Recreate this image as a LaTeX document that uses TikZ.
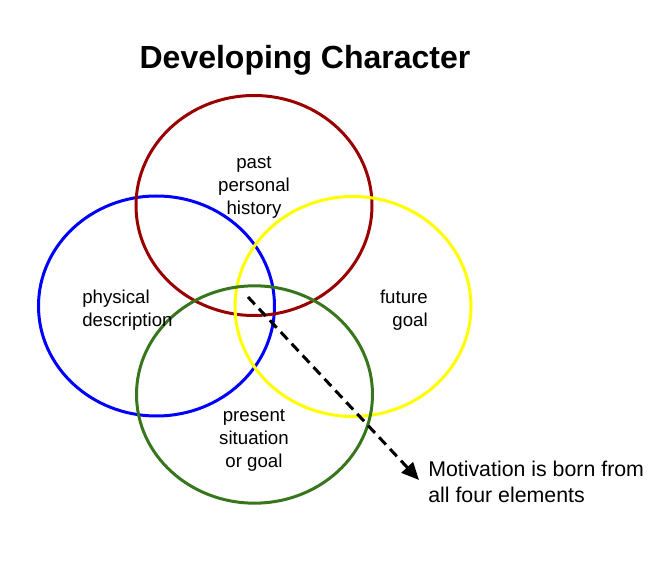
\documentclass[tikz,border=0pt]{standalone}
\usepackage{fontspec}
\setmainfont{Liberation Sans}
\usetikzlibrary{shapes.geometric,arrows.meta}
\definecolor{cred}{HTML}{990000}
\definecolor{cblue}{HTML}{0000FF}
\definecolor{cyellow}{HTML}{FFFF00}
\definecolor{cgreen}{HTML}{38761D}
\tikzset{
  ring/.style={ellipse, draw, line width=2.25pt, inner sep=0pt},
  lbl/.style={font=\fontsize{14}{17}\selectfont, inner sep=0pt},
  note/.style={font=\fontsize{16}{19.5}\selectfont, inner sep=0pt, align=left},
  motarrow/.style={line width=2.25pt, dash pattern=on 7.5pt off 4.5pt, -{Triangle[length=13pt,width=11.5pt]}}
}
\begin{document}
\begin{tikzpicture}[x=0.75pt,y=-0.75pt]
\useasboundingbox (0,0) rectangle (669,563);
\node[font=\fontsize{24}{28}\selectfont\bfseries, inner sep=0pt] (title) at (305,60) {Developing Character};
\node[ring, cblue, minimum width=177pt, minimum height=165pt] (blue) at (156.5,306) {};
\node[ring, cred, minimum width=177pt, minimum height=165pt] (red) at (254,205.5) {};
\node[ring, cyellow, minimum width=177pt, minimum height=165pt] (yellow) at (353,306.5) {};
\node[ring, cgreen, minimum width=177pt, minimum height=163pt] (green) at (254.5,394.5) {};
\node[lbl, align=center] (past) at (254,187.5) {past\\personal\\history};
\node[lbl, align=left, anchor=west] (phys) at (82,310) {physical\\description};
\node[lbl, align=right, anchor=east] (fut) at (428,310) {future\\goal};
\node[lbl, align=center] (pres) at (254,440.5) {present\\situation\\or goal};
\node[note, anchor=west] (mot) at (428,481.5) {Motivation is born from\\all four elements};
\coordinate (s) at (248,297);
\coordinate (e) at (419,480);
\draw[motarrow] (s) -- (e);
\end{tikzpicture}
\end{document}
